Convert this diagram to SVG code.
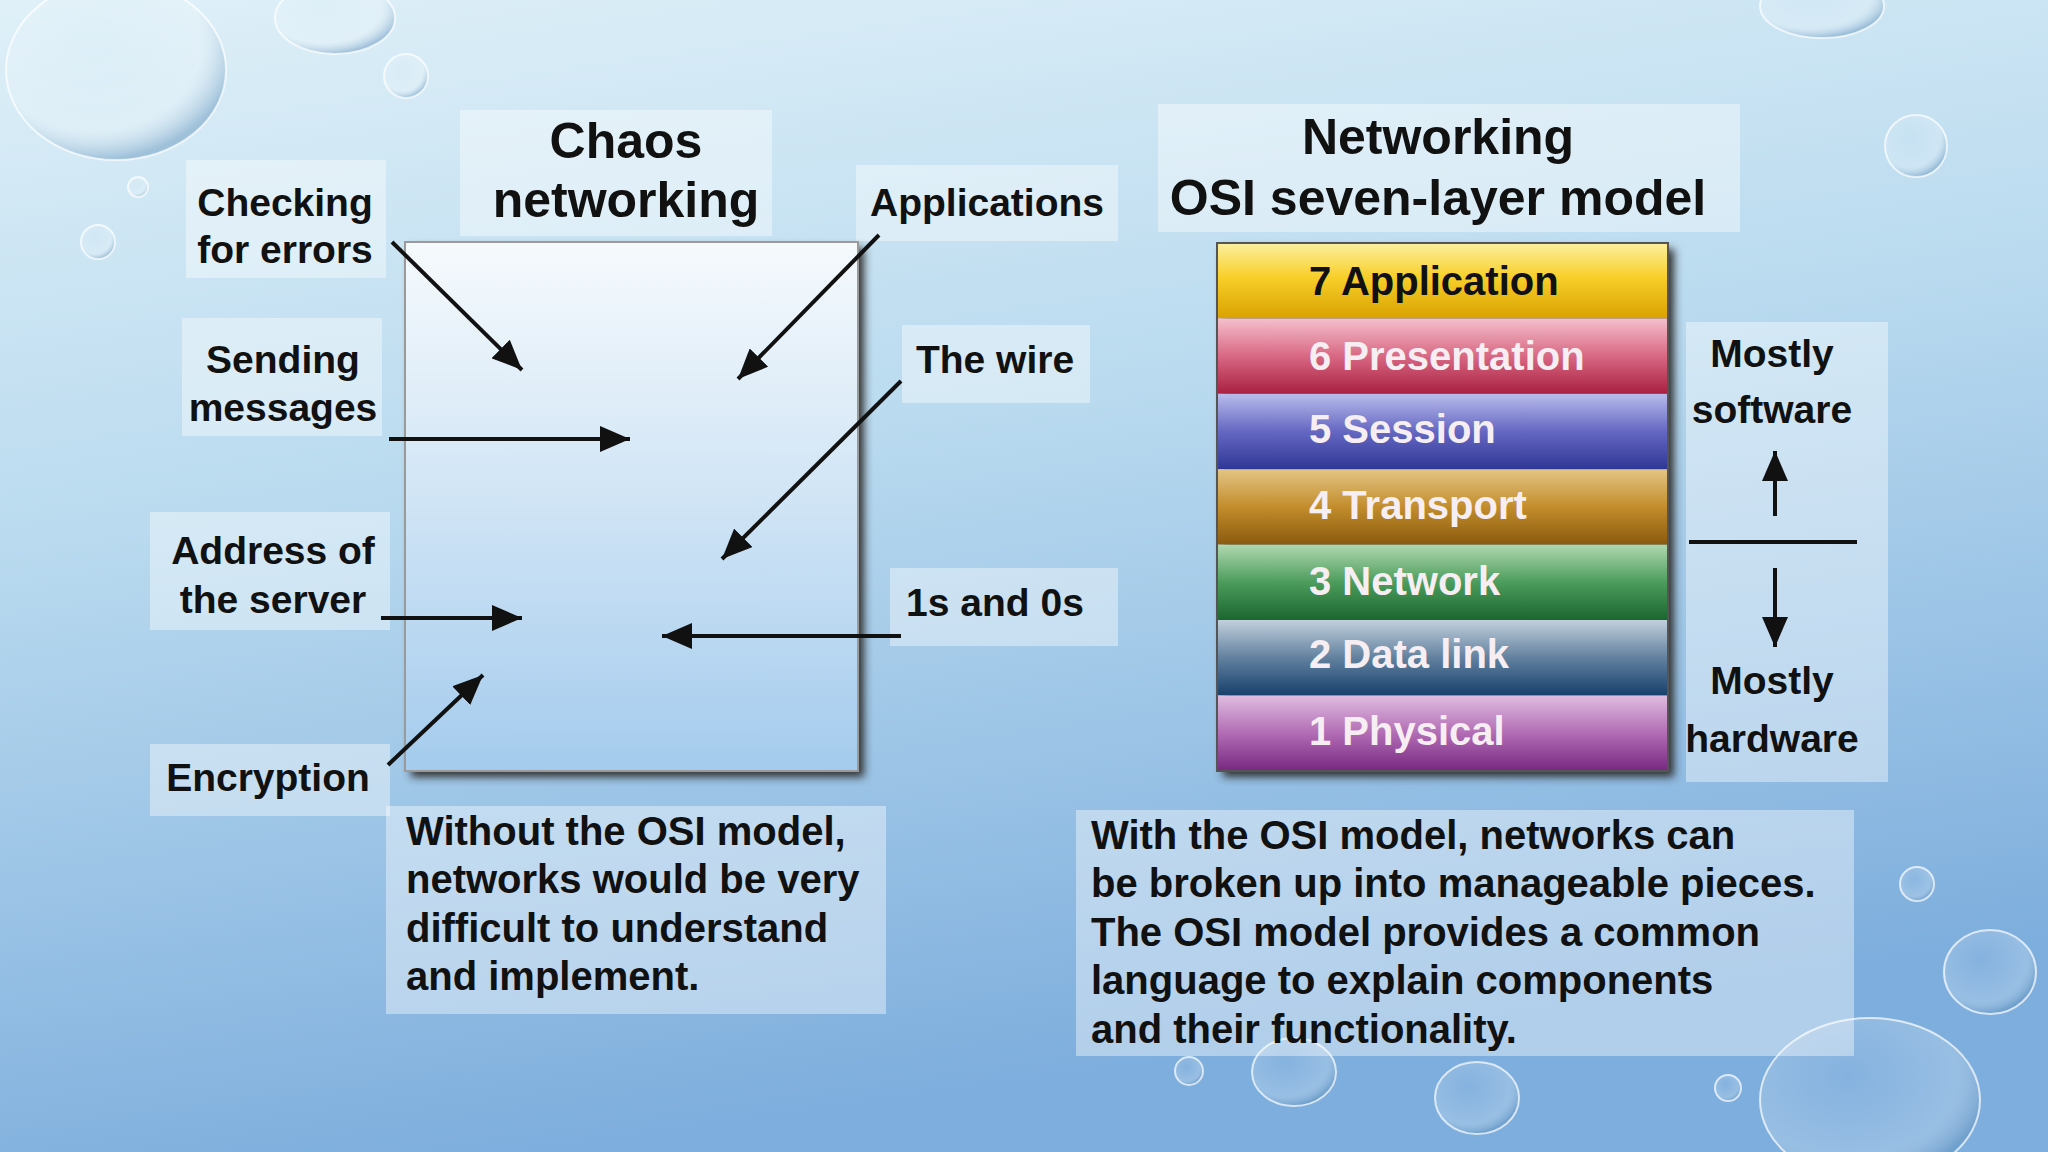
<svg xmlns="http://www.w3.org/2000/svg" width="2048" height="1152" viewBox="0 0 2048 1152">
<defs>
<linearGradient id="bg" x1="0" y1="0" x2="0.25" y2="1">
<stop offset="0" stop-color="#dff0f8"/>
<stop offset="0.45" stop-color="#b9daef"/>
<stop offset="1" stop-color="#7eaedd"/>
</linearGradient>
<linearGradient id="box" x1="0" y1="0" x2="0" y2="1">
<stop offset="0" stop-color="#f6fafd"/>
<stop offset="0.5" stop-color="#cfe4f5"/>
<stop offset="1" stop-color="#a4cbed"/>
</linearGradient>
<linearGradient id="g7" x1="0" y1="0" x2="0" y2="1"><stop offset="0" stop-color="#fcf0a0"/><stop offset="0.45" stop-color="#f8cf2a"/><stop offset="1" stop-color="#d9a200"/></linearGradient>
<linearGradient id="g6" x1="0" y1="0" x2="0" y2="1"><stop offset="0" stop-color="#f4c0cd"/><stop offset="0.5" stop-color="#d86883"/><stop offset="1" stop-color="#a91f42"/></linearGradient>
<linearGradient id="g5" x1="0" y1="0" x2="0" y2="1"><stop offset="0" stop-color="#b8bceb"/><stop offset="0.5" stop-color="#6567c2"/><stop offset="1" stop-color="#2f3796"/></linearGradient>
<linearGradient id="g4" x1="0" y1="0" x2="0" y2="1"><stop offset="0" stop-color="#e3c585"/><stop offset="0.5" stop-color="#c38d2c"/><stop offset="1" stop-color="#8a5a0e"/></linearGradient>
<linearGradient id="g3" x1="0" y1="0" x2="0" y2="1"><stop offset="0" stop-color="#b0d8b0"/><stop offset="0.5" stop-color="#4c9c5c"/><stop offset="1" stop-color="#1b6630"/></linearGradient>
<linearGradient id="g2" x1="0" y1="0" x2="0" y2="1"><stop offset="0" stop-color="#c2d0dd"/><stop offset="0.5" stop-color="#62819f"/><stop offset="1" stop-color="#17406c"/></linearGradient>
<linearGradient id="g1" x1="0" y1="0" x2="0" y2="1"><stop offset="0" stop-color="#dfbde0"/><stop offset="0.5" stop-color="#b26cb5"/><stop offset="1" stop-color="#76287f"/></linearGradient>
<radialGradient id="drop" cx="0.4" cy="0.35" r="0.65">
<stop offset="0" stop-color="#ffffff" stop-opacity="0.05"/>
<stop offset="0.75" stop-color="#ffffff" stop-opacity="0.2"/>
<stop offset="1" stop-color="#5f8fb8" stop-opacity="0.45"/>
</radialGradient>
<filter id="sh" x="-10%" y="-10%" width="130%" height="130%">
<feGaussianBlur stdDeviation="4"/>
</filter>
<marker id="ah" markerUnits="userSpaceOnUse" markerWidth="30" markerHeight="26" refX="30" refY="13" orient="auto">
<path d="M0,0 L30,13 L0,26 z" fill="#111"/>
</marker>
</defs>
<style>
.t{font-family:"Liberation Sans",Arial,sans-serif;font-weight:bold;fill:#111}
.ti{font-size:50px;text-anchor:middle}
.lb{font-size:39px;text-anchor:middle}
.cp{font-size:40px}
.ly{font-family:"Liberation Sans",Arial,sans-serif;font-weight:bold;font-size:40px;fill:#f6eef3}
.halo{fill:#ffffff;opacity:0.4}
.arr{stroke:#111;stroke-width:4;fill:none;marker-end:url(#ah)}
.dr{fill:url(#drop);stroke:#ffffff;stroke-opacity:0.7;stroke-width:2}
</style>
<rect width="2048" height="1152" fill="url(#bg)"/>
<g id="droplets">
<ellipse class="dr" cx="116" cy="70" rx="110" ry="90"/>
<ellipse class="dr" cx="335" cy="18" rx="60" ry="36"/>
<circle class="dr" cx="406" cy="76" r="22"/>
<circle class="dr" cx="138" cy="187" r="10"/>
<circle class="dr" cx="98" cy="242" r="17"/>
<ellipse class="dr" cx="1822" cy="6" rx="62" ry="32"/>
<circle class="dr" cx="1916" cy="146" r="31"/>
<circle class="dr" cx="1917" cy="884" r="17"/>
<ellipse class="dr" cx="1990" cy="972" rx="46" ry="42"/>
<ellipse class="dr" cx="1870" cy="1100" rx="110" ry="82"/>
<ellipse class="dr" cx="1477" cy="1098" rx="42" ry="36"/>
<ellipse class="dr" cx="1294" cy="1072" rx="42" ry="34"/>
<circle class="dr" cx="1189" cy="1071" r="14"/>
<circle class="dr" cx="1728" cy="1088" r="13"/>
</g>
<g id="halos">
<rect class="halo" x="186" y="160" width="200" height="118"/>
<rect class="halo" x="182" y="318" width="200" height="118"/>
<rect class="halo" x="150" y="512" width="240" height="118"/>
<rect class="halo" x="150" y="744" width="240" height="72"/>
<rect class="halo" x="460" y="110" width="312" height="126"/>
<rect class="halo" x="856" y="165" width="262" height="76"/>
<rect class="halo" x="902" y="325" width="188" height="78"/>
<rect class="halo" x="890" y="568" width="228" height="78"/>
<rect class="halo" x="1158" y="104" width="582" height="128"/>
<rect class="halo" x="1686" y="322" width="202" height="460"/>
<rect class="halo" x="386" y="806" width="500" height="208"/>
<rect class="halo" x="1076" y="810" width="778" height="246"/>
</g>
<g id="chaos-title">
<text class="t ti" x="626" y="158">Chaos</text>
<text class="t ti" x="626" y="217">networking</text>
</g>
<g id="chaos-box">
<rect x="411" y="248" width="453" height="529" fill="#333" filter="url(#sh)"/>
<rect x="405" y="242" width="453" height="529" fill="url(#box)" stroke="#9a9a9a" stroke-width="2"/>
</g>
<g id="label-checking"><text class="t lb" x="285" y="216">Checking</text><text class="t lb" x="285" y="263">for errors</text></g>
<g id="label-sending"><text class="t lb" x="283" y="373">Sending</text><text class="t lb" x="283" y="421">messages</text></g>
<g id="label-address"><text class="t lb" x="273" y="564">Address of</text><text class="t lb" x="273" y="613">the server</text></g>
<g id="label-encryption"><text class="t lb" x="268" y="791">Encryption</text></g>
<g id="label-applications"><text class="t lb" x="987" y="216">Applications</text></g>
<g id="label-wire"><text class="t lb" x="995" y="373">The wire</text></g>
<g id="label-bits"><text class="t lb" x="995" y="616">1s and 0s</text></g>
<g id="caption-left">
<text class="t cp" x="406" y="845">Without the OSI model,</text>
<text class="t cp" x="406" y="893">networks would be very</text>
<text class="t cp" x="406" y="942">difficult to understand</text>
<text class="t cp" x="406" y="990">and implement.</text>
</g>
<g id="osi-title">
<text class="t ti" x="1438" y="154">Networking</text>
<text class="t ti" x="1438" y="215">OSI seven-layer model</text>
</g>
<g id="osi-stack">
<rect x="1223" y="249" width="451" height="528" fill="#333" filter="url(#sh)"/>
<g id="layer7"><rect x="1217" y="243" width="451" height="75.4" fill="url(#g7)"/><text class="ly" x="1309" y="295" style="fill:#111">7 Application</text></g>
<g id="layer6"><rect x="1217" y="318.4" width="451" height="75.4" fill="url(#g6)"/><text class="ly" x="1309" y="370">6 Presentation</text></g>
<g id="layer5"><rect x="1217" y="393.8" width="451" height="75.4" fill="url(#g5)"/><text class="ly" x="1309" y="443">5 Session</text></g>
<g id="layer4"><rect x="1217" y="469.2" width="451" height="75.4" fill="url(#g4)"/><text class="ly" x="1309" y="519">4 Transport</text></g>
<g id="layer3"><rect x="1217" y="544.6" width="451" height="75.4" fill="url(#g3)"/><text class="ly" x="1309" y="595">3 Network</text></g>
<g id="layer2"><rect x="1217" y="620" width="451" height="75.4" fill="url(#g2)"/><text class="ly" x="1309" y="668">2 Data link</text></g>
<g id="layer1"><rect x="1217" y="695.4" width="451" height="75.6" fill="url(#g1)"/><text class="ly" x="1309" y="745">1 Physical</text></g>
<rect x="1217" y="243" width="451" height="528" fill="none" stroke="#555" stroke-width="2"/>
</g>
<g id="label-software"><text class="t lb" x="1772" y="367">Mostly</text><text class="t lb" x="1772" y="423">software</text></g>
<g id="label-hardware"><text class="t lb" x="1772" y="694">Mostly</text><text class="t lb" x="1772" y="752">hardware</text></g>
<g id="caption-right">
<text class="t cp" x="1091" y="849">With the OSI model, networks can</text>
<text class="t cp" x="1091" y="897">be broken up into manageable pieces.</text>
<text class="t cp" x="1091" y="946">The OSI model provides a common</text>
<text class="t cp" x="1091" y="994">language to explain components</text>
<text class="t cp" x="1091" y="1043">and their functionality.</text>
</g>
<g id="connectors">
<line class="arr" x1="392" y1="242" x2="522" y2="370"/>
<line class="arr" x1="879" y1="235" x2="738" y2="379"/>
<line class="arr" x1="389" y1="439" x2="630" y2="439"/>
<line class="arr" x1="901" y1="381" x2="722" y2="559"/>
<line class="arr" x1="381" y1="618" x2="522" y2="618"/>
<line class="arr" x1="901" y1="636" x2="662" y2="636"/>
<line class="arr" x1="388" y1="765" x2="483" y2="675"/>
<line class="arr" x1="1775" y1="516" x2="1775" y2="451"/>
<line x1="1689" y1="542" x2="1857" y2="542" stroke="#111" stroke-width="4"/>
<line class="arr" x1="1775" y1="568" x2="1775" y2="647"/>
</g>
</svg>
